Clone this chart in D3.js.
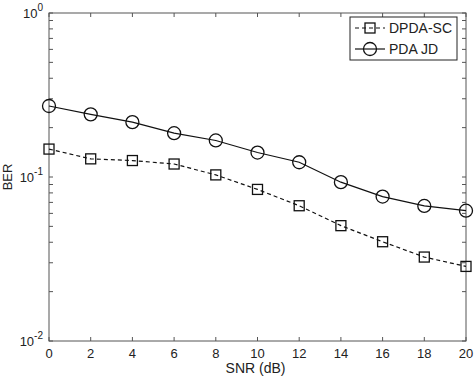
<!DOCTYPE html>
<html>
<head>
<meta charset="utf-8">
<script src="https://cdn.jsdelivr.net/npm/d3@7"></script>
<style>
  body { margin: 0; background: #fff; }
  text { font-family: "Liberation Sans", Arial, sans-serif; fill: #222; }
</style>
</head>
<body>
<svg></svg>
<script>
const width = 474;
const height = 376;

const snr = [0, 2, 4, 6, 8, 10, 12, 14, 16, 18, 20];
const berDPDA = [0.148, 0.129, 0.126, 0.120, 0.103, 0.084, 0.0668, 0.0505, 0.0403, 0.0325, 0.0285];
const berPDA = [0.271, 0.241, 0.216, 0.185, 0.167, 0.141, 0.123, 0.093, 0.076, 0.0666, 0.0623];
const xTicks = [0, 2, 4, 6, 8, 10, 12, 14, 16, 18, 20];
const yExps = [-2, -1, 0];
const seriesNames = ["DPDA-SC", "PDA JD"];

const margin = {left: 49, right: 8, top: 13, bottom: 35};

let svg = d3.select("svg")
    .attr("width", width)
    .attr("height", height);

const x = d3.scaleLinear().domain([0, 20]).range([margin.left, width - margin.right]);
const y = d3.scaleLog().domain([0.01, 1]).range([height - margin.bottom, margin.top]);

const axisColor = "#555";

// frame
svg.append("rect")
    .attr("x", x(0))
    .attr("y", y(1))
    .attr("width", x(20) - x(0))
    .attr("height", y(0.01) - y(1))
    .attr("fill", "none")
    .attr("stroke", axisColor)
    .attr("stroke-width", 1);

// x ticks (inside, bottom and top)
xTicks.forEach(t => {
    svg.append("line")
        .attr("x1", x(t)).attr("x2", x(t))
        .attr("y1", y(0.01)).attr("y2", y(0.01) - 4)
        .attr("stroke", axisColor);
    svg.append("line")
        .attr("x1", x(t)).attr("x2", x(t))
        .attr("y1", y(1)).attr("y2", y(1) + 4)
        .attr("stroke", axisColor);
    svg.append("text")
        .attr("x", x(t))
        .attr("y", y(0.01) + 17)
        .attr("text-anchor", "middle")
        .style("font-size", "13px")
        .text(t);
});

// y ticks, major and minor (inside, left and right)
let yTickVals = [];
for (let e = -2; e < 0; e++) {
    for (let m = 1; m < 10; m++) yTickVals.push(m * Math.pow(10, e));
}
yTickVals.push(1);
yTickVals.forEach(v => {
    const len = 4;
    svg.append("line")
        .attr("x1", x(0)).attr("x2", x(0) + len)
        .attr("y1", y(v)).attr("y2", y(v))
        .attr("stroke", axisColor);
    svg.append("line")
        .attr("x1", x(20)).attr("x2", x(20) - len)
        .attr("y1", y(v)).attr("y2", y(v))
        .attr("stroke", axisColor);
});

yExps.forEach(e => {
    let t = svg.append("text")
        .attr("x", x(0) - 6)
        .attr("y", y(Math.pow(10, e)) + 5)
        .attr("text-anchor", "end")
        .style("font-size", "13px");
    t.append("tspan").text("10");
    t.append("tspan")
        .attr("dy", -7)
        .style("font-size", "10px")
        .text(e);
});

// axis labels
svg.append("text")
    .attr("x", (x(0) + x(20)) / 2 - 2)
    .attr("y", height - 3)
    .attr("text-anchor", "middle")
    .style("font-size", "14px")
    .text("SNR (dB)");

svg.append("text")
    .attr("transform", `translate(12,${y(0.1)}) rotate(-90)`)
    .attr("text-anchor", "middle")
    .style("font-size", "13px")
    .text("BER");

// lines
const line = d3.line()
    .x((d, i) => x(snr[i]))
    .y(d => y(d));

svg.append("path")
    .attr("d", line(berDPDA))
    .attr("fill", "none")
    .attr("stroke", "#111")
    .attr("stroke-width", 1.2)
    .attr("stroke-dasharray", "4,3");

svg.append("path")
    .attr("d", line(berPDA))
    .attr("fill", "none")
    .attr("stroke", "#111")
    .attr("stroke-width", 1.2);

const sq = 10;
svg.append("g").selectAll("rect")
    .data(berDPDA)
    .join("rect")
    .attr("x", (d, i) => x(snr[i]) - sq / 2)
    .attr("y", d => y(d) - sq / 2)
    .attr("width", sq)
    .attr("height", sq)
    .attr("fill", "none")
    .attr("stroke", "#111")
    .attr("stroke-width", 1.3);

svg.append("g").selectAll("circle")
    .data(berPDA)
    .join("circle")
    .attr("cx", (d, i) => x(snr[i]))
    .attr("cy", d => y(d))
    .attr("r", 6.5)
    .attr("fill", "none")
    .attr("stroke", "#111")
    .attr("stroke-width", 1.3);

// legend
const lg = svg.append("g");
lg.append("rect")
    .attr("x", 350).attr("y", 17)
    .attr("width", 107).attr("height", 43)
    .attr("fill", "#fff")
    .attr("stroke", "#222");

seriesNames.forEach((name, i) => {
    const ly = 28 + i * 21;
    lg.append("line")
        .attr("x1", 355).attr("x2", 385)
        .attr("y1", ly).attr("y2", ly)
        .attr("stroke", "#111")
        .attr("stroke-width", 1.2)
        .attr("stroke-dasharray", i === 0 ? "4,3" : null);
    if (i === 0) {
        lg.append("rect")
            .attr("x", 370 - sq / 2).attr("y", ly - sq / 2)
            .attr("width", sq).attr("height", sq)
            .attr("fill", "none").attr("stroke", "#111").attr("stroke-width", 1.3);
    } else {
        lg.append("circle")
            .attr("cx", 370).attr("cy", ly).attr("r", 6.5)
            .attr("fill", "none").attr("stroke", "#111").attr("stroke-width", 1.3);
    }
    lg.append("text")
        .attr("x", 389)
        .attr("y", ly + 5)
        .style("font-size", "14px")
        .text(name);
});
</script>
</body>
</html>
